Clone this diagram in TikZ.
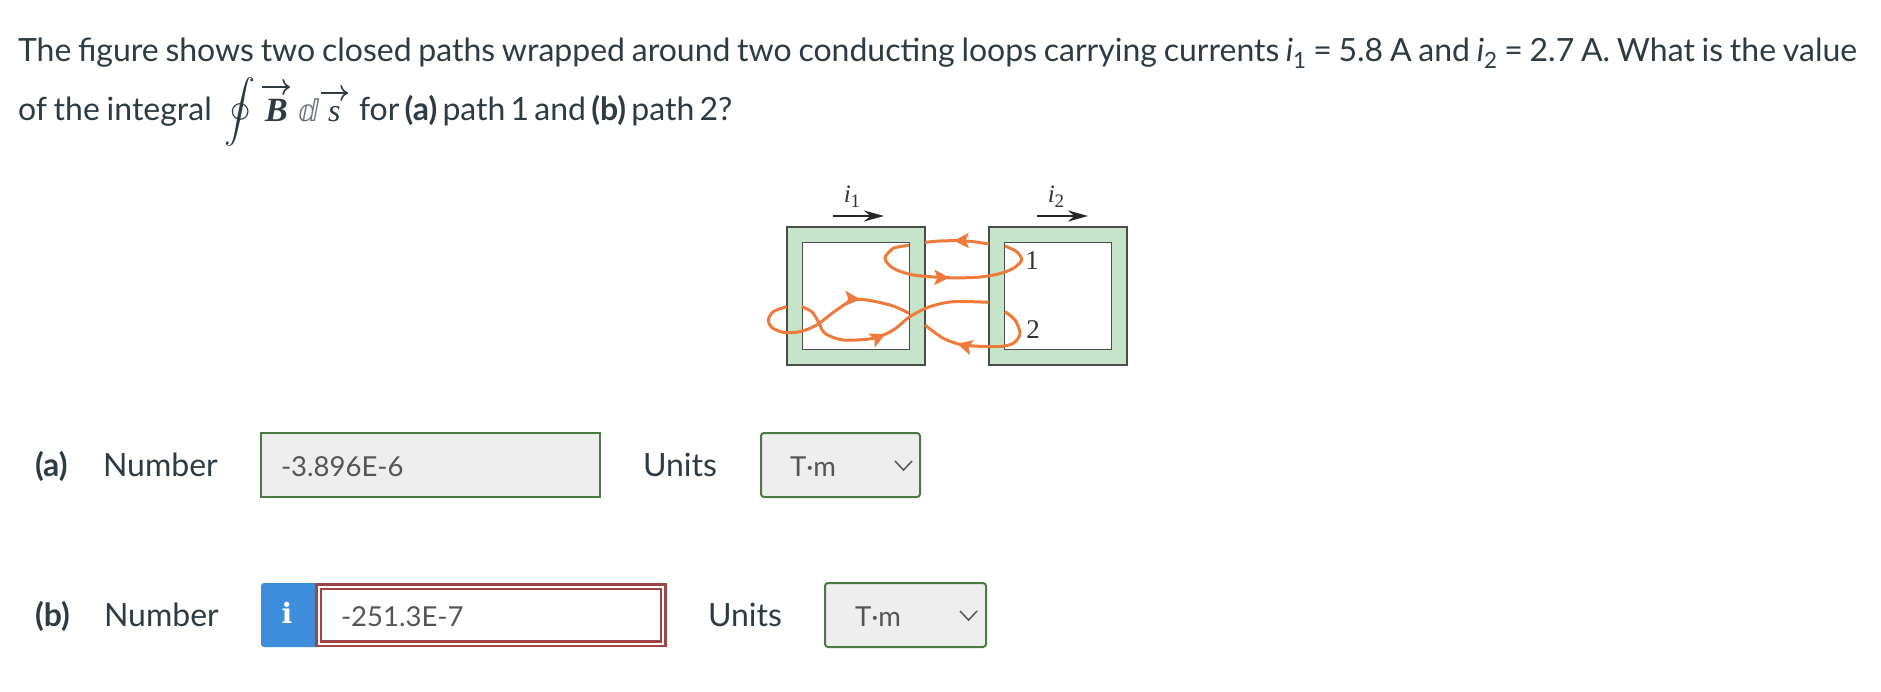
\documentclass[tikz,border=0pt]{standalone}
\usepackage{amsmath}
\usepackage{fontspec}
\setmainfont{Lato}[WordSpace=0.82]
\newfontfamily\serifb{Liberation Serif}
\newfontfamily\dejav{DejaVu Sans}
\newfontfamily\infof{DejaVu Serif Bold}
\usetikzlibrary{arrows,arrows.meta,decorations.markings}
\definecolor{textc}{HTML}{2D3B45}
\definecolor{inputc}{HTML}{555555}
\definecolor{okc}{HTML}{4B7A43}
\definecolor{badc}{HTML}{A04545}
\definecolor{infoc}{HTML}{3E8DDD}
\definecolor{boxc}{HTML}{EEEEEE}
\definecolor{metalc}{HTML}{C6E4C9}
\definecolor{pathc}{HTML}{EE7A3C}

\begin{document}
\begin{tikzpicture}[>=stealth',x=1pt,y=-1pt,semithick]
  \tikzstyle{every node}=[inner sep=0pt,outer sep=0pt]
  \tikzstyle{prose}=[font=\fontsize{32}{38}\selectfont,text=textc,anchor=base west]
  \tikzstyle{field}=[font=\fontsize{27.5}{32}\selectfont,text=inputc,anchor=base west]
  \tikzstyle{outbox}=[draw=okc,line width=2pt,fill=boxc]
  \tikzstyle{metal}=[draw=black!70,line width=1.6pt,fill=metalc,minimum size=138pt]
  \tikzstyle{hole}=[draw=black!70,line width=1.6pt,fill=white,minimum size=107pt]
  \tikzstyle{tag}=[font=\serifb\fontsize{27}{30}\selectfont,text=black!80]
  \tikzstyle{amp}=[font=\serifb\itshape\fontsize{25}{28}\selectfont,text=black!80]
  \tikzstyle{wire}=[draw=pathc,line width=3pt]
  \tikzstyle{vecbar}=[-{Computer Modern Rightarrow[scale=1.5]},textc,line width=1.6pt]
  \tikzstyle{flow}=[-{Stealth[length=20pt,width=11pt]},black!85,line width=2.4pt]
  \tikzstyle{tipat}=[postaction={decorate,decoration={markings,
      mark=at position #1 with {\arrow[pathc]{Stealth[length=15pt,width=15pt,inset=3pt]}}}}]

  \path[fill=white,use as bounding box] (0,0) rectangle (1881,691);

  \node[prose] (l1) at (18,61) {The figure shows two closed paths wrapped around two conducting loops carrying currents \textit{i}\textsubscript{1} = 5.8 A and \textit{i}\textsubscript{2} = 2.7 A. What is the value};
  \node[prose] (l2) at (18,120) {of the integral};
  \node[text=textc,scale=3.1] (int) at (240,112) {$\displaystyle\oint$};
  \node[font=\serifb\bfseries\itshape\fontsize{34}{38}\selectfont,text=textc,anchor=base west] (B) at (265,121) {B};
  \node[font=\dejav\fontsize{30}{34}\selectfont,text=textc!70,anchor=base west] (d) at (298,121) {ⅆ};
  \node[font=\serifb\itshape\fontsize{32}{36}\selectfont,text=textc,anchor=base west] (s) at (328,121) {s};
  \coordinate (B0) at (262,87);
  \coordinate (B1) at (290,87);
  \coordinate (s0) at (321,93);
  \coordinate (s1) at (348,93);
  \draw[vecbar] (B0) -- (B1);
  \draw[vecbar] (s0) -- (s1);
  \node[prose] (l3) at (359,120) {\spaceskip=5.2pt for \textbf{(a)} path 1 and \textbf{(b)} path 2?};

  \node[metal] (L1) at (856,296) {};
  \node[hole] (H1) at (L1) {};
  \node[metal] (L2) at (1058,296) {};
  \node[hole] (H2) at (L2) {};
  \node[amp] (i1) at (852,197) {i\raisebox{-5pt}{\fontsize{19}{20}\selectfont\upshape 1}};
  \node[amp] (i2) at (1056,197) {i\raisebox{-5pt}{\fontsize{19}{20}\selectfont\upshape 2}};
  \coordinate (a0) at (833,216);
  \coordinate (a1) at (884,216);
  \coordinate (b0) at (1037,216);
  \coordinate (b1) at (1088,216);
  \draw[flow] (a0) -- (a1);
  \draw[flow] (b0) -- (b1);
  \node[tag] (n1) at (1032,261) {1};
  \node[tag] (n2) at (1033,330) {2};

  \begin{scope}[xshift=750pt,yshift=-170pt,x=0.3333pt,y=-0.3333pt]
    \draw[wire,tipat=0.55] plot[smooth] coordinates {(716,222) (670,215) (625,212) (570,213) (525,217)};
    \draw[wire,tipat=0.5] plot[smooth] coordinates {(477,226) (430,235) (405,265) (430,295) (490,315) (590,323) (680,322) (745,312) (790,295) (815,270) (800,245) (765,228)};
    \draw[wire,tipat=0.72] plot[smooth] coordinates {(765,425) (795,450) (810,490) (790,520) (740,530) (640,525) (580,505) (525,465)};
    \draw[wire,tipat=0.72] plot[smooth] coordinates {(110,410) (70,425) (55,450) (65,472) (100,487) (150,485) (200,465) (260,420) (320,388) (420,405) (477,430)};
    \draw[wire,tipat=0.47] plot[smooth] coordinates {(155,410) (185,425) (205,455) (225,490) (280,510) (370,505) (430,480) (480,440) (540,410) (610,395) (716,397)};
  \end{scope}

  \node[prose] (pa) at (35,476) {\textbf{(a)}};
  \node[prose] (na) at (103,476) {Number};
  \draw[outbox] (261,433) rectangle (600,497);
  \node[field] (va) at (281,476) {-3.896E-6};
  \node[prose] (ua) at (643,476) {Units};
  \draw[outbox,rounded corners=3pt] (761,433) rectangle (920,497);
  \node[field] (ta) at (790,476) {T·m};
  \draw[inputc,line width=1.5pt] (895,461) -- (903.5,470) -- (912,461);

  \node[prose] (pb) at (35,626) {\textbf{(b)}};
  \node[prose] (nb) at (104,626) {Number};
  \fill[infoc,rounded corners=3pt] (320,583) -- (261,583) -- (261,647) -- (320,647) -- cycle;
  \node[font=\infof\fontsize{28}{30}\selectfont,text=white] (inf) at (287,613) {i};
  \draw[badc,double=white,double distance=2pt,line width=2.5pt,fill=white] (318.5,586.5) rectangle (663,643.5);
  \node[field] (vb) at (341,626) {-251.3E-7};
  \node[prose] (ub) at (708,626) {Units};
  \draw[outbox,rounded corners=3pt] (825,583) rectangle (986,647);
  \node[field] (tb) at (855,626) {T·m};
  \draw[inputc,line width=1.5pt] (960,611) -- (968.5,620) -- (977,611);
\end{tikzpicture}
\end{document}
